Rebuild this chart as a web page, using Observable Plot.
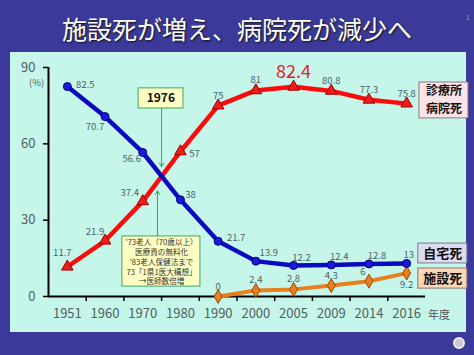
<!DOCTYPE html>
<html><head><meta charset="utf-8">
<script src="https://cdn.jsdelivr.net/npm/d3@7"></script>
<script src="https://cdn.jsdelivr.net/npm/@observablehq/plot@0.6"></script>
<style>
html,body{margin:0;padding:0;overflow:hidden;}
#page{position:relative;width:474px;height:355px;background:#3b3a9a;font-family:'Noto Sans CJK JP',sans-serif;}
#panel{position:absolute;left:10px;top:52px;width:456px;height:280px;background:#c6f6ea;}
#title{position:absolute;left:0;top:11px;width:474px;text-align:center;color:#fff;font-size:25px;line-height:34px;text-shadow:1px 1px 2px #111;}
#pg{position:absolute;left:466px;top:12px;color:#9a9ad0;font-size:7px;}
#icon{position:absolute;left:453px;top:337px;width:12px;height:12px;border-radius:50%;background:#c8c8d8;border:2px solid #eee;box-sizing:border-box;}
#chart{position:absolute;left:0;top:0;}
</style></head>
<body>
<div id="page">
  <div id="panel"></div>
  <div id="title">施設死が増え、病院死が減少へ</div>
  <div id="pg">1</div>
  <div id="icon"></div>
  <div id="chart"></div>
</div>
<script>
const years = ["1951","1960","1970","1980","1990","2000","2005","2009","2014","2016"];
const hospital = [11.7,21.9,37.4,57,75,81,82.4,80.8,77.3,75.8];
const home = [82.5,70.7,56.6,38,21.7,13.9,12.2,12.4,12.8,13];
const facility = [null,null,null,null,0,2.4,2.8,4.3,6,9.2];
const yTicks = [0,30,60,90];
const noteLines = ["'73老人（70歳以上）","医療費の無料化","'83老人保健法まで","73「1県1医大構想」","→医師数倍増"];

const rows = years.map((yr,i)=>({i, yr, hospital:hospital[i], home:home[i], facility:facility[i]}));
const labelColor = "#4a6464";
function labels(key, idxs, opts){
  return Plot.text(rows.filter(r=>idxs.includes(r.i) && r[key]!=null),
    {x:"i", y:key, text:d=>String(d[key]), fontSize:9.5, fill:labelColor, ...opts});
}
const RED="#ff0a0a", BLUE="#0a0ac0", ORANGE="#e8801e";

const chart = Plot.plot({
  width:474, height:355,
  marginLeft:48, marginRight:49, marginTop:67, marginBottom:59,
  x:{type:"linear", domain:[-0.5, years.length-0.5]},
  y:{domain:[0,90]},
  style:{background:"transparent", overflow:"visible", fontFamily:"'Noto Sans CJK JP', sans-serif"},
  marks:[
    Plot.axisY({ticks:yTicks, tickSize:5, tickPadding:8, fontSize:13, stroke:"#000", fill:"#4f5f5f", strokeWidth:1.5, label:null}),
    Plot.axisX({ticks:d3.range(0.5, years.length-1, 1), tickSize:5, tickFormat:()=> "", stroke:"#000", strokeWidth:1.5, label:null}),
    Plot.axisX({ticks:d3.range(years.length), tickSize:0, tickPadding:12, tickFormat:i=>years[i], fontSize:13, fill:"#4f5f5f", label:null}),
    Plot.ruleX([-0.5], {y1:0, y2:90, stroke:"#000", strokeWidth:2}),
    Plot.ruleY([0], {x1:-0.5, x2:years.length-0.5, stroke:"#000", strokeWidth:2}),
    Plot.text(["(%)"], {x:-0.5, y:90, dx:-12, dy:15, fontSize:9.5, fill:"#4f5f5f"}),
    Plot.text(["年度"], {x:9.86, y:0, dy:19, fontSize:11, fill:"#555"}),
    // lines
    Plot.line(rows, {x:"i", y:"hospital", stroke:RED, strokeWidth:4.5}),
    Plot.line(rows.filter(r=>r.facility!=null), {x:"i", y:"facility", stroke:ORANGE, strokeWidth:4}),
    Plot.line(rows, {x:"i", y:"home", stroke:BLUE, strokeWidth:4.5}),
    Plot.dot(rows, {x:"i", y:"hospital", symbol:"triangle", r:4.3, fill:"#ee1c1c", stroke:"#a00000", strokeWidth:1}),
    Plot.dot(rows.filter(r=>r.facility!=null), {x:"i", y:"facility", symbol:"diamond", r:4.2, fill:"#e67e22", stroke:"#9a4a00", strokeWidth:1}),
    Plot.dot(rows, {x:"i", y:"home", symbol:"circle", r:4, fill:"#1a1ad8", stroke:"#000080", strokeWidth:1}),
    // hospital labels
    labels("hospital",[0],{dx:-5, dy:-14}),
    labels("hospital",[1],{dx:-10, dy:-9}),
    labels("hospital",[2],{dx:-13, dy:-8}),
    labels("hospital",[3],{dx:14, dy:2}),
    labels("hospital",[4,5,7,8,9],{dy:-10}),
    labels("hospital",[6],{dy:-15, fontSize:18, fill:"#e0202a"}),
    // home labels
    labels("home",[0],{dx:18, dy:-2}),
    labels("home",[1],{dx:-10, dy:10}),
    labels("home",[2],{dx:-11, dy:6}),
    labels("home",[3],{dx:10, dy:-5}),
    labels("home",[4],{dx:18, dy:-3}),
    labels("home",[5],{dx:13, dy:-8}),
    labels("home",[6,7,8],{dx:8, dy:-8}),
    labels("home",[9],{dx:2, dy:-8}),
    // facility labels
    labels("facility",[4,5,6,7],{dy:-10}),
    labels("facility",[8],{dx:-6, dy:-9}),
    labels("facility",[9],{dy:12}),
    // 1976 annotation
    Plot.arrow([0], {x1:2.5, x2:2.5, y1:73.9, y2:51, stroke:"#2aa860", strokeWidth:1, headLength:6}),
    Plot.arrow([0], {x1:2.39, x2:2.39, y1:23.6, y2:41.5, stroke:"#2aa860", strokeWidth:1, headLength:6}),
    Plot.rect([0], {x1:1.89, x2:3.08, y1:73.9, y2:81.8, fill:"#ffffc4", stroke:"#3aa860", strokeWidth:1}),
    Plot.text(["1976"], {x:2.48, y:77.85, fontSize:12, fontWeight:"bold", fill:"#111"}),
    Plot.rect([0], {x1:1.46, x2:3.53, y1:3.9, y2:23.6, fill:"#ffffc4", stroke:"#3aa860", strokeWidth:1}),
    Plot.text([noteLines.join("\n")], {x:2.5, y:13.75, fontSize:7.6, lineHeight:1.3, fill:"#333"}),
    // series labels boxes
    Plot.rect([0], {x1:9.34, x2:10.64, y1:70.0, y2:84.1, fill:"#fbe3e8", stroke:"#8a7a7a", strokeWidth:1}),
    Plot.text(["診療所"], {x:9.99, y:77.05, dy:-9, fontSize:12, fontWeight:"bold", fill:"#111"}),
    Plot.text(["病院死"], {x:9.99, y:77.05, dy:9, fontSize:12, fontWeight:"bold", fill:"#111"}),
    Plot.rect([0], {x1:9.31, x2:10.61, y1:13.0, y2:20.8, fill:"#dcdaf5", stroke:"#7a7a8a", strokeWidth:1}),
    Plot.text(["自宅死"], {x:9.96, y:16.9, fontSize:13, fontWeight:"bold", fill:"#111"}),
    Plot.rect([0], {x1:9.31, x2:10.61, y1:3.1, y2:11.0, fill:"#fbd7b5", stroke:"#8a7a6a", strokeWidth:1}),
    Plot.text(["施設死"], {x:9.96, y:7.05, fontSize:13, fontWeight:"bold", fill:"#111"})
  ]
});
document.getElementById("chart").appendChild(chart);
</script>
</body></html>
